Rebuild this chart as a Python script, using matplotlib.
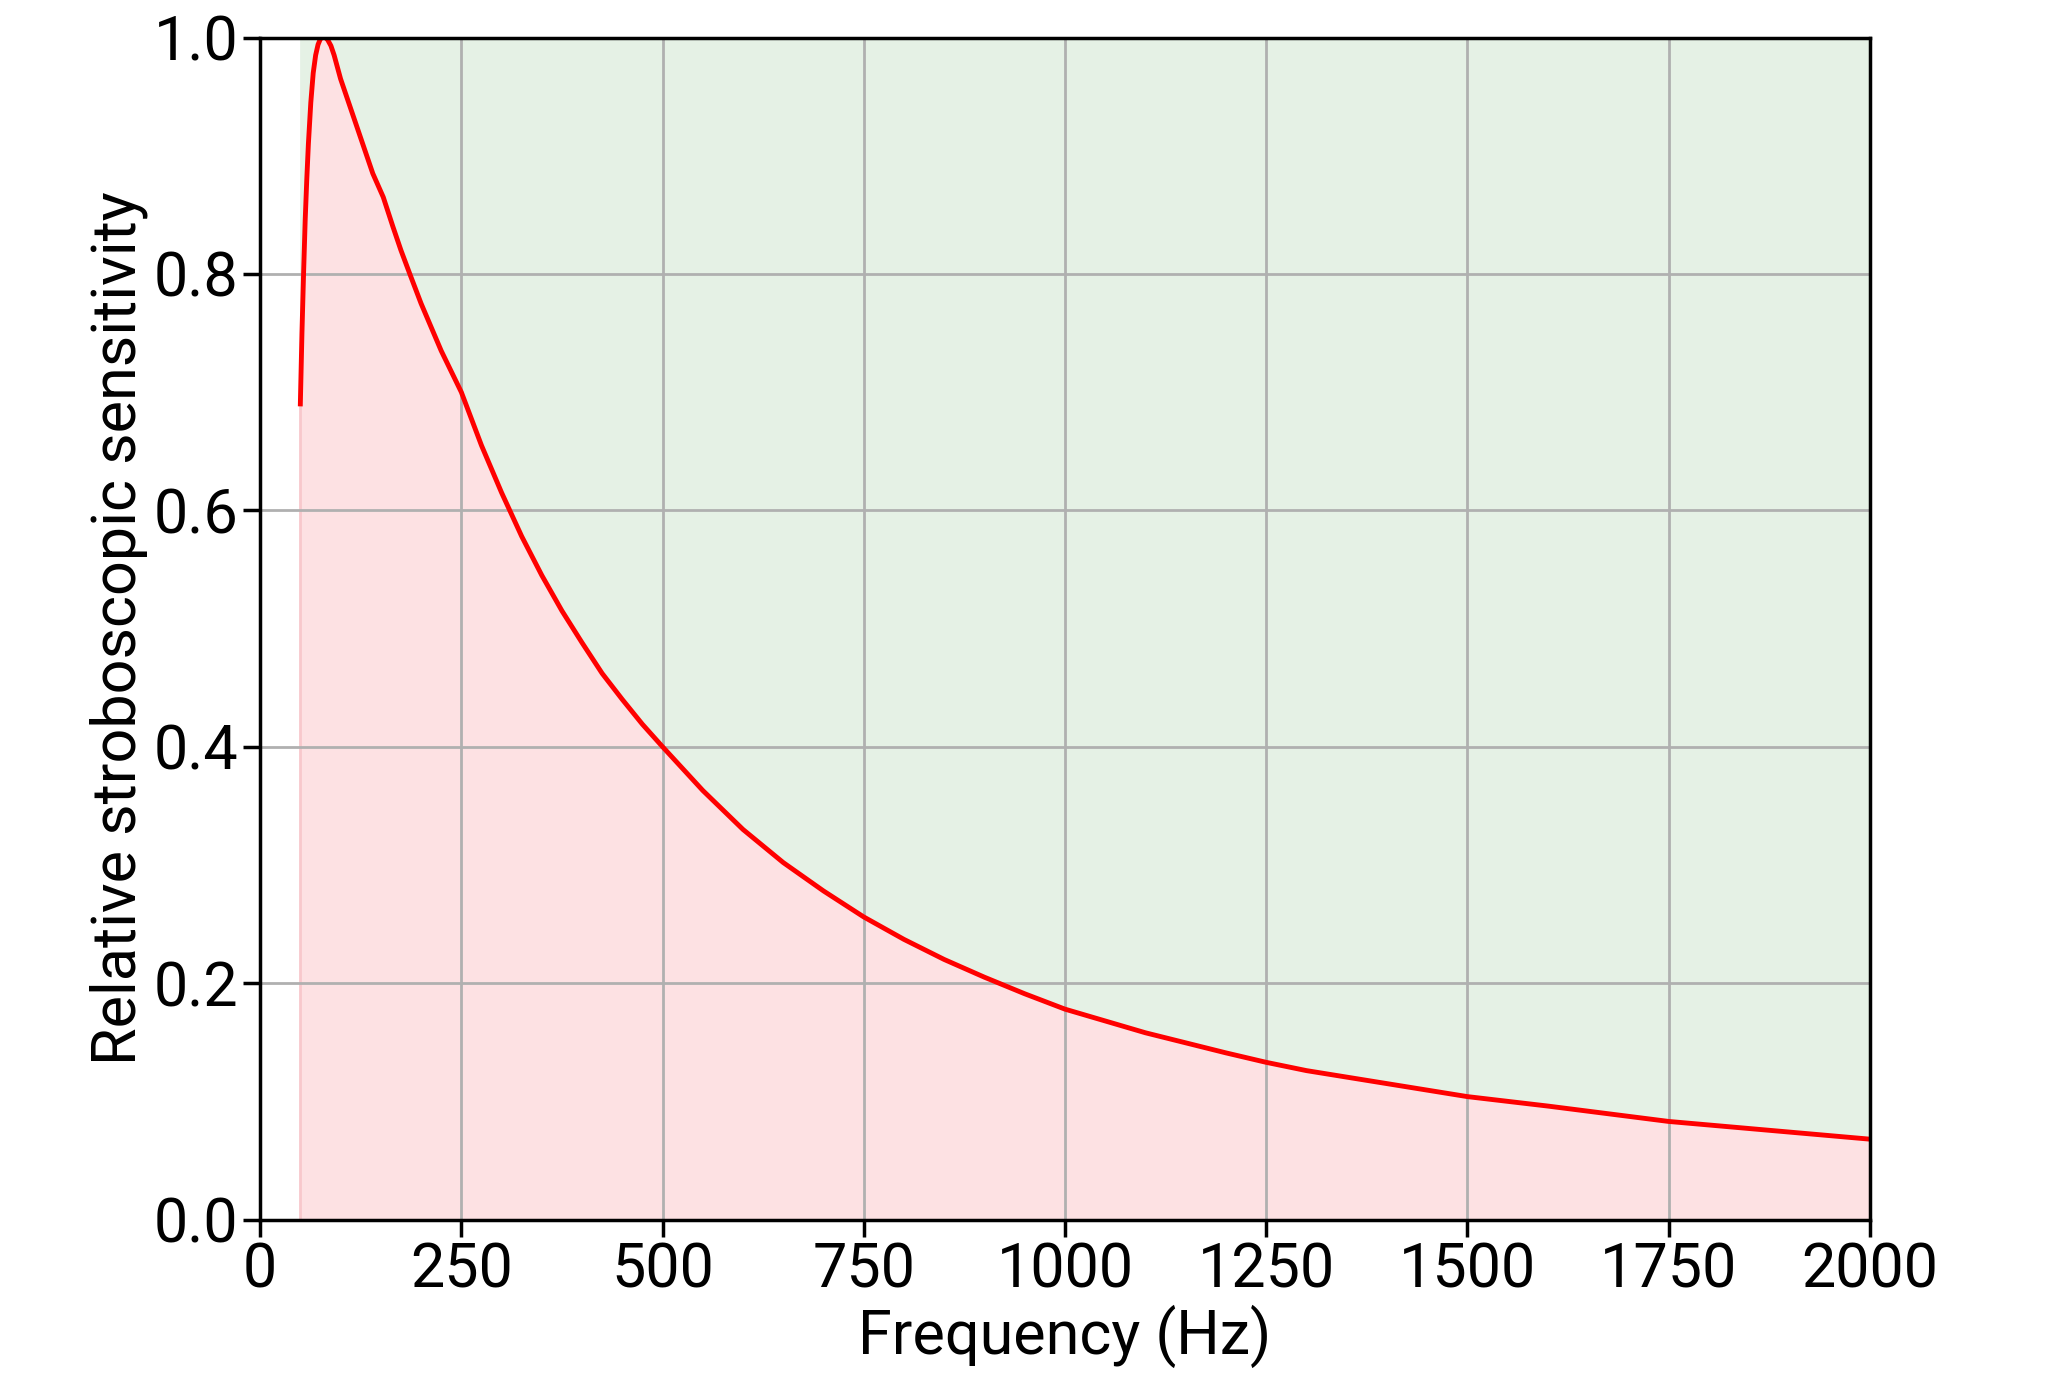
import matplotlib
matplotlib.use("Agg")
import matplotlib.pyplot as plt
import numpy as np

freq = [50, 52, 54, 56, 58, 60, 63, 66, 69, 72, 75, 78, 81, 84, 88, 92, 96, 100, 110, 120, 130, 140, 153, 165, 175, 186, 200, 225, 250, 275, 300, 325, 350, 375, 400, 425, 450, 475, 500, 550, 600, 650, 700, 750, 800, 850, 900, 950, 1000, 1100, 1200, 1250, 1300, 1400, 1500, 1600, 1750, 1850, 2000]
sens = [0.69, 0.75, 0.80, 0.845, 0.88, 0.91, 0.945, 0.97, 0.985, 0.994, 0.999, 1.0, 1.0, 0.998, 0.993, 0.985, 0.975, 0.965, 0.945, 0.925, 0.905, 0.885, 0.865, 0.84, 0.82, 0.80, 0.775, 0.735, 0.70, 0.655, 0.615, 0.578, 0.545, 0.515, 0.488, 0.462, 0.44, 0.419, 0.40, 0.363, 0.33, 0.302, 0.278, 0.256, 0.237, 0.22, 0.205, 0.191, 0.178, 0.158, 0.141, 0.133, 0.126, 0.115, 0.104, 0.096, 0.083, 0.077, 0.068]
xticks = [0, 250, 500, 750, 1000, 1250, 1500, 1750, 2000]
yticks = [0.0, 0.2, 0.4, 0.6, 0.8, 1.0]

plt.rcParams['font.family'] = ['Roboto', 'DejaVu Sans']
fig = plt.figure(figsize=(20.48, 13.89), dpi=100)
ax = fig.add_axes([0.127, 0.122, 0.786, 0.851])
x = np.array(freq); y = np.array(sens)
ax.fill_between(x, y, 1.0, color='#e5f1e5', zorder=1)
ax.fill_between(x, 0, y, color='#fde1e3', zorder=1)
ax.plot([50, 50], [0, sens[0]], color='#f8c8cc', lw=2, zorder=2)
ax.plot(x, y, color='red', lw=3.5, zorder=3)
ax.set_xlim(0, 2000); ax.set_ylim(0, 1.0)
ax.set_xticks(xticks); ax.set_yticks(yticks)
ax.set_yticklabels([f"{v:.1f}" for v in yticks])
ax.grid(True, color='#b0b0b0', lw=2, zorder=2)
ax.set_axisbelow(False)
for s in ax.spines.values():
    s.set_linewidth(2.5); s.set_zorder(4)
ax.tick_params(labelsize=44, width=2.5, length=12)
ax.set_xlabel("Frequency (Hz)", fontsize=44)
ax.set_ylabel("Relative stroboscopic sensitivity", fontsize=44)
fig.savefig("out.png", dpi=100)
